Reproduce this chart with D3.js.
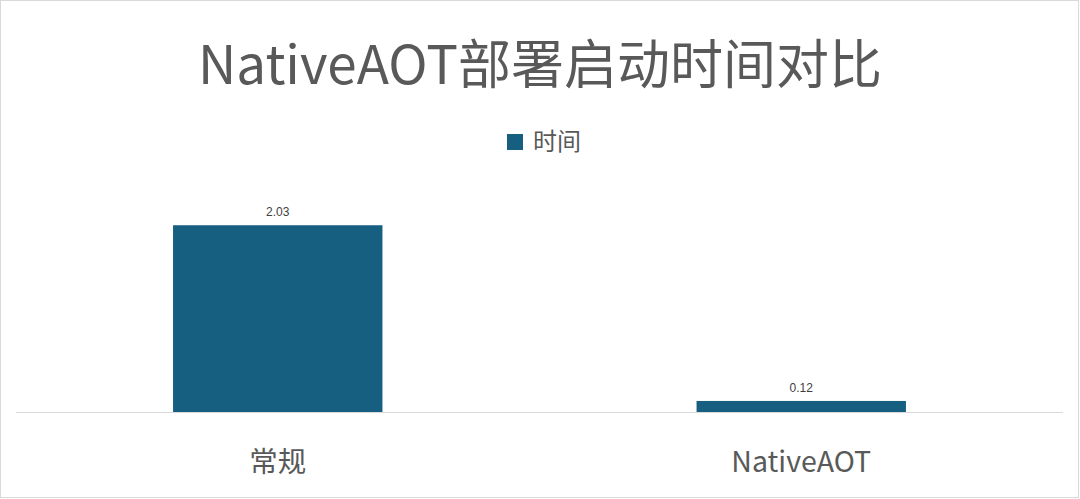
<!DOCTYPE html>
<html>
<head>
<meta charset="utf-8">
<script src="https://cdn.jsdelivr.net/npm/d3@7"></script>
<style>
  body { margin: 0; background: #fff; }
  svg { display: block; }
</style>
</head>
<body>
<svg id="chart" width="1080" height="499"></svg>
<script>
// chart data
var categories = ['常规', 'NativeAOT'];
var values = [2.03, 0.12];
var seriesName = '时间';
var titleText = 'NativeAOT部署启动时间对比';

var svg = d3.select('svg');
var width = +svg.attr('width');
var height = +svg.attr('height');
var plot = {left: 16, right: 1063, top: 182, bottom: 412};
var barColor = '#175f80';
var cjk = '"Noto Sans CJK SC", "Noto Sans", sans-serif';

// outer frame
svg.append('rect')
    .attr('x', 0.5).attr('y', 0.5)
    .attr('width', width - 2).attr('height', height - 2)
    .attr('fill', '#fff')
    .attr('stroke', '#d9d9d9');

svg.append('text')
    .attr('x', width / 2)
    .attr('y', 84)
    .attr('text-anchor', 'middle')
    .style('font-family', cjk)
    .style('font-size', '53px')
    .style('fill', '#595959')
    .text(titleText);

// legend
var legend = svg.append('g').attr('transform', 'translate(507,134)');
legend.append('rect')
    .attr('width', 16).attr('height', 16)
    .attr('fill', barColor);
legend.append('text')
    .attr('x', 26).attr('y', 16)
    .style('font-family', cjk)
    .style('font-size', '24px')
    .style('fill', '#595959')
    .text(seriesName);

var xScale = d3.scaleBand()
    .domain(categories)
    .range([plot.left, plot.right])
    .paddingInner(0.6)
    .paddingOuter(0.3);

var yScale = d3.scaleLinear()
    .domain([0, 2.5])
    .range([plot.bottom, plot.top]);

var chartG = svg.append('g').attr('class', 'bars');

chartG.selectAll('.bar')
    .data(values)
    .enter()
    .append('rect')
    .attr('class', 'bar')
    .attr('x', function(d, i) { return xScale(categories[i]); })
    .attr('y', function(d) { return yScale(d); })
    .attr('width', xScale.bandwidth())
    .attr('height', function(d) { return yScale(0) - yScale(d); })
    .attr('fill', barColor);

chartG.selectAll('.value')
    .data(values)
    .enter()
    .append('text')
    .attr('class', 'value')
    .attr('x', function(d, i) { return xScale(categories[i]) + xScale.bandwidth() / 2; })
    .attr('y', function(d) { return yScale(d) - 9; })
    .attr('text-anchor', 'middle')
    .style('font-family', '"Liberation Sans", Arial, sans-serif')
    .style('font-size', '12px')
    .style('fill', '#404040')
    .text(function(d) { return d.toFixed(2); });

// category axis
var xAxis = svg.append('g')
    .attr('class', 'x axis')
    .attr('transform', 'translate(0,' + plot.bottom + ')')
    .call(d3.axisBottom(xScale).tickSize(0).tickPadding(40));
xAxis.select('.domain')
    .attr('stroke', '#d9d9d9')
    .attr('d', 'M' + plot.left + ',0.5H' + plot.right);
xAxis.selectAll('text')
    .style('font-family', cjk)
    .style('font-size', '28.5px')
    .style('fill', '#595959');
</script>
</body>
</html>
